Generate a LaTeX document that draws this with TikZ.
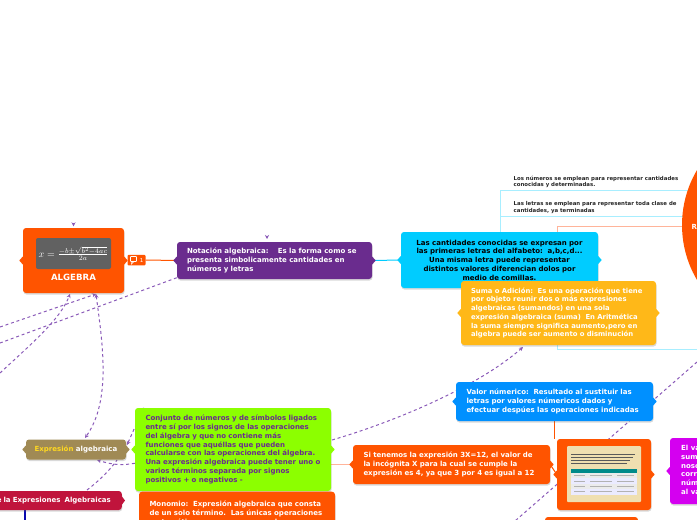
\documentclass[tikz,border=0pt]{standalone}
\usepackage{fontspec}
\setmainfont{DejaVu Sans}
\usetikzlibrary{shadows,arrows.meta,calc}
\pgfdeclarelayer{bg}
\pgfsetlayers{bg,main}
\definecolor{cOrange}{HTML}{FF5400}
\definecolor{cPurple}{HTML}{6A2C8E}
\definecolor{cCyan}{HTML}{00CCFF}
\definecolor{cAmber}{HTML}{FFB818}
\definecolor{cBlue}{HTML}{0090FF}
\definecolor{cGreen}{HTML}{8CFF00}
\definecolor{cMag}{HTML}{D400F0}
\definecolor{cTan}{HTML}{A08A55}
\definecolor{cRed}{HTML}{C0143C}
\definecolor{cDash}{HTML}{8A5AB8}
\definecolor{cLCyan}{HTML}{A8EEFF}
\definecolor{cLOrange}{HTML}{FFB49A}
\definecolor{cNavy}{HTML}{0A0AB0}
\definecolor{cYel}{HTML}{FFD820}
\definecolor{cBeige}{HTML}{EFDFB0}
\tikzset{
  x=1pt,y=-1pt,
  card/.style={rectangle,rounded corners=3pt,inner sep=0pt,draw=none,
    drop shadow={shadow xshift=0.5pt,shadow yshift=-1.5pt,opacity=.25,fill=black!60},
    font=\bfseries\fontsize{7}{8.75}\selectfont,align=left},
  dashlink/.style={draw=cDash,line width=1pt,dash pattern=on 3pt off 2.8pt},
  tipend/.style={-{Stealth[length=4pt,width=4pt]}},
  thinline/.style={line width=1pt},
  smalltext/.style={inner sep=0pt,anchor=north west,align=left,text=black!85,
    font=\bfseries\fontsize{5.4}{6.6}\selectfont}
}
\newcommand{\bumps}[2]{%
  \fill[#2] ($(#1.east)+(0,-4)$) -- ($(#1.east)+(3.5,0)$) -- ($(#1.east)+(0,4)$) -- cycle;
  \fill[#2] ($(#1.west)+(0,-4)$) -- ($(#1.west)+(-3.5,0)$) -- ($(#1.west)+(0,4)$) -- cycle;}
\begin{document}
\begin{tikzpicture}
\useasboundingbox (0,0) rectangle (697,520);
\clip (0,0) rectangle (697,520);
% circle at right
\node[circle,fill=cOrange,minimum size=216pt,inner sep=0pt] (circ) at (790,225) {};
\node[inner sep=0pt,text=white,font=\bfseries\fontsize{7}{8}\selectfont,anchor=west] (rlab) at (691.5,227) {R};
% algebra
\node[card,fill=cOrange,minimum width=101pt,minimum height=65pt] (alg) at (73.5,260.5) {};
\bumps{alg}{cOrange}
\node[rectangle,rounded corners=2pt,fill=black!62,minimum width=75pt,minimum height=31pt,inner sep=0pt,text=white] (chalk) at (73.5,253.5)
  {\fontsize{10}{11}\selectfont $x=\frac{-b\pm\sqrt{b^2-4ac}}{2a}$};
\node[inner sep=0pt,text=white,font=\bfseries\fontsize{8.6}{9}\selectfont] (algt) at (73.5,277) {ALGEBRA};
% badge
\node[rectangle,rounded corners=1pt,fill=cOrange,minimum width=18pt,minimum height=10.5pt,inner sep=0pt] (badge) at (136.5,260) {};
\draw[white,line width=.6pt,rounded corners=.6pt] (130.5,256.5) rectangle (136.5,261.5);
\draw[white,line width=.6pt] (132,261.5) -- (131.5,264) -- (134,261.5);
\node[inner sep=0pt,text=white,font=\fontsize{5.5}{6}\selectfont] (badgen) at (141.5,260.3) {1};
% notacion
\node[card,fill=cPurple,text=white,minimum width=195pt,minimum height=37pt,text width=175pt] (nota) at (274.5,260.5)
 {Notación algebraica:\ \ \ \ Es la forma como se\\presenta simbolicamente cantidades en\\números y letras};
\bumps{nota}{cPurple}
% top texts
\node[smalltext] (t1) at (513.5,175.5) {Los números se emplean para representar cantidades\\conocidas y determinadas.};
\node[smalltext] (t2) at (513.5,201.5) {Las letras se emplean para representar toda clase de\\cantidades, ya terminadas};
% cyan
\node[card,fill=cCyan,text=black,minimum width=197pt,minimum height=56pt,text width=190pt,align=center] (cyan) at (499.5,260)
 {Las cantidades conocidas se expresan por\\las primeras letras del alfabeto:\ \ a,b,c,d...\\Una misma letra puede representar\\distintos valores diferencian dolos por\\medio de comillas.};
\bumps{cyan}{cCyan}
% amber
\node[card,fill=cAmber,text=white,minimum width=195pt,minimum height=64pt,text width=175pt,font=\bfseries\fontsize{6.85}{8.75}\selectfont] (amber) at (558.5,313)
 {Suma o Adición:\ \ Es una operación que tiene\\por objeto reunir dos o más expresiones\\algebraicas (sumandos) en una sola\\expresión algebraica (suma)\ \ En Aritmética\\la suma siempre significa aumento,pero en\\algebra puede ser aumento o disminución};
\bumps{amber}{cAmber}
% blue
\node[card,fill=cBlue,text=white,minimum width=197pt,minimum height=39pt,text width=176pt] (blue) at (554.5,401.5)
 {Valor númerico:\ \ Resultado al sustituir las\\letras por valores númericos dados y\\efectuar despúes las operaciones indicadas};
\bumps{blue}{cBlue}
% orange Si tenemos
\node[card,fill=cOrange,text=white,minimum width=197pt,minimum height=39pt,text width=176pt] (sit) at (451.5,464.5)
 {Si tenemos la expresión 3X=12, el valor de\\la incógnita X para la cual se cumple la\\expresión es 4, ya que 3 por 4 es igual a 12};
\bumps{sit}{cOrange}
% image box
\node[card,fill=cOrange,minimum width=94pt,minimum height=71pt] (imgb) at (604,474.5) {};
\bumps{imgb}{cOrange}
\node[rectangle,rounded corners=1pt,fill=cBeige,minimum width=74pt,minimum height=56pt,inner sep=0pt] (imgi) at (604,474) {};
\foreach \yy/\xe in {454.5/635,457/633,460/630,463/627}{\draw[black!65,line width=.5pt] (571,\yy) -- (\xe,\yy);}
\fill[teal!65!cyan!80!black] (571,469) rectangle (637,472.5);
\fill[black!8] (571,472.5) rectangle (637,495);
\fill[blue!8!white] (571,478) rectangle (637,484);
\fill[blue!8!white] (571,489) rectangle (637,495);
\foreach \yy in {475.5,481,486.5,491.5}{\draw[black!30,line width=.5pt] (574,\yy) -- (585,\yy) (590,\yy) -- (612,\yy) (617,\yy) -- (634,\yy);}
% bottom orange
\node[card,fill=cOrange,minimum width=93pt,minimum height=30pt] (botb) at (591.5,532) {};
% magenta
\node[card,fill=cMag,text=white,minimum width=60pt,minimum height=66pt,text width=40pt] (mag) at (700,471) {};
\fill[cMag] ($(mag.west)+(0,-4)$) -- ($(mag.west)+(-3.5,0)$) -- ($(mag.west)+(0,4)$) -- cycle;
\node[inner sep=0pt,anchor=north west,text=white,align=left,font=\bfseries\fontsize{7}{8.75}\selectfont] (magt) at (681,445) {El va\\sum\\nosc\\corr\\núm\\al va};
% green
\node[card,fill=cGreen,text=cPurple,minimum width=196pt,minimum height=83pt,text width=175pt] (green) at (233,449.5)
 {Conjunto de números y de símbolos ligados\\entre sí por los signos de las operaciones\\del álgebra y que no contiene más\\funciones que aquéllas que pueden\\calcularse con las operaciones del álgebra.\\Una expresión algebraica puede tener uno o\\varios términos separada por signos\\positivos + o negativos -};
\bumps{green}{cGreen}
% monomio
\node[card,fill=cOrange,text=white,minimum width=196pt,minimum height=43pt,text width=175pt,anchor=north] (mono) at (237,491.5)
 {Monomio:\ \ Expresión algebraica que consta\\de un solo término.\ \ Las únicas operaciones\\matemáticas que aparecen con la};
% expresion
\node[card,fill=cTan,text=white,minimum width=100pt,minimum height=20pt,align=center] (expr) at (76,449.5)
 {\textcolor{cYel}{Expresión} algebraica};
\bumps{expr}{cTan}
% red
\node[card,fill=cRed,text=white,minimum width=130pt,minimum height=19pt,anchor=east] (redb) at (122,500.5)
 {\hbox to 130pt{\hfill de la Expresiones\ \ Algebraicas\hspace{11pt}}};
\fill[cRed] ($(redb.east)+(0,-4)$) -- ($(redb.east)+(3,0)$) -- ($(redb.east)+(0,4)$) -- cycle;
% free ends
\coordinate (fa) at (0,343);
\coordinate (fb) at (0,327);
\coordinate (fc) at (0,373);
\coordinate (fd) at (697,362);
\coordinate (fe) at (515,521);
\coordinate (ff) at (25,521);
\coordinate (lc1) at (500,190);
\coordinate (lc2) at (690,190);
\coordinate (lc3) at (500,216);
\coordinate (lc4) at (690,216);
\coordinate (lo1) at (557,226);
\coordinate (lo2) at (684,226);
\coordinate (lb1) at (557,349);
\coordinate (lb2) at (697,349);
\coordinate (sb) at (267,236);
\coordinate (af) at (96,294);
\coordinate (ag) at (70,294);
\begin{pgfonlayer}{bg}
\draw[cOrange,thinline] (badge.east) -- (nota.west);
\draw[cCyan,thinline] (nota.east) -- (cyan.west);
\draw[cLCyan,thinline] (lc1) -- (lc2) (lc3) -- (lc4) (lc1) -- (cyan.north -| lc1);
\draw[cLOrange,thinline] (lo2) -- (lo1) -- (amber.north -| lo1);
\draw[cLCyan,thinline] (amber.south -| lb1) -- (lb1) -- (lb2);
\draw[cOrange,line width=1.2pt] (blue.south) -- (imgb.north -| blue.south);
\draw[cLOrange,thinline] (green.east |- sit.west) -- (sit.west);
\draw[cOrange,thinline] (sit.east) -- (imgb.west);
\draw[cNavy,line width=1.6pt] (ff) -- (ff |- redb.south);
\draw[dashlink] (nota.190) -- (fa);
\draw[dashlink,tipend] (fb) -- (af);
\draw[dashlink,tipend] (fc) .. controls (30,345) and (60,320) .. (ag);
\draw[dashlink,{Stealth[length=4pt,width=4pt]}-{Stealth[length=4pt,width=4pt]}] (af) .. controls (102,340) and (112,400) .. (85,438);
\draw[dashlink,tipend] (green.188) .. controls (120,466) and (110,464) .. (97,460);
\draw[dashlink] (87,490) .. controls (100,480) and (110,470) .. (117,460);
\draw[dashlink,tipend] (green.155) -- (127,445);
\draw[dashlink,tipend] (332,440) .. controls (400,420) and (480,385) .. (523,347);
\draw[dashlink] (fd) -- (fe);
\draw[dashlink,tipend] ($(alg.north)+(0,-5)$) -- ++(0,3.5);
\draw[dashlink,tipend] (sb) -- ++(0,3);
\end{pgfonlayer}
\end{tikzpicture}
\end{document}
